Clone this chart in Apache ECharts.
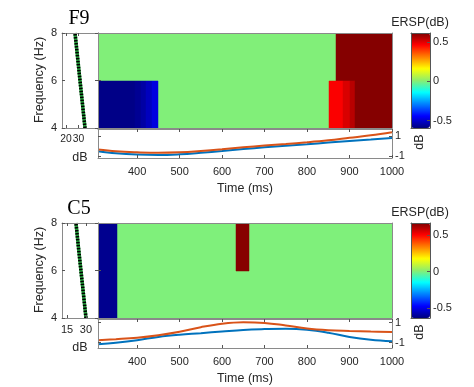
<!DOCTYPE html>
<html><head><meta charset="utf-8">
<script src="https://cdn.jsdelivr.net/npm/echarts@6/dist/echarts.min.js"></script>
<style>html,body{margin:0;padding:0;background:#fff}#c{width:474px;height:387px}</style>
</head><body><div id="c"></div>
<script>
// ---------- DATA ----------
const timeTicks = [400, 500, 600, 700, 800, 900, 1000];
const freqTicks = [4, 6, 8];
const colorbarTicks = [-0.5, 0, 0.5];
const lineTicks = [-1, 1];

// ERSP cells: [t0 (ms), t1 (ms), f0 (Hz), f1 (Hz), ERSP (dB)]
const f9Cells = [
  [308, 1000, 4, 8, 0],
  [308, 395, 4, 6, -0.585],
  [395, 410, 4, 6, -0.57],
  [410, 422, 4, 6, -0.55],
  [422, 435, 4, 6, -0.52],
  [435, 449, 4, 6, -0.48],
  [868, 1000, 6, 8, 0.61],
  [852, 885, 4, 6, 0.47],
  [885, 900, 4, 6, 0.51],
  [900, 913, 4, 6, 0.55],
  [913, 1000, 4, 6, 0.61]
];
const c5Cells = [
  [308, 1000, 4, 8, 0],
  [308, 353, 4, 8, -0.61],
  [633, 663, 6, 8, 0.65]
];

// Line panel (dB) over time
const lineTime = [308, 350, 400, 450, 500, 550, 600, 650, 700, 750, 800, 850, 900, 950, 1000];
const f9Orange = [-0.38, -0.55, -0.65, -0.70, -0.65, -0.52, -0.35, -0.15, 0.02, 0.18, 0.35, 0.55, 0.80, 1.05, 1.35];
const f9Blue   = [-0.55, -0.75, -0.88, -0.92, -0.85, -0.70, -0.52, -0.33, -0.15, 0.00, 0.15, 0.32, 0.48, 0.63, 0.78];
const c5Orange = [-0.75, -0.65, -0.50, -0.25, 0.10, 0.55, 0.90, 1.05, 0.98, 0.72, 0.42, 0.25, 0.17, 0.11, 0.08];
const c5Blue   = [-1.15, -1.00, -0.75, -0.42, -0.20, -0.05, 0.12, 0.28, 0.36, 0.40, 0.30, 0.00, -0.42, -0.70, -0.85];

// Power spectrum (dB) per frequency
const specFreq = [4, 5, 6, 7, 8];
const f9SpecDb = [35.2, 33.2, 31.2, 29.2, 27.2];
const c5SpecDb = [30.0, 28.0, 26.0, 24.0, 22.1];
const f9SpecTicks = [20, 30];
const c5SpecTicks = [15, 30];

// ---------- CHART ----------
const jet = ['#00007F', '#0000FF', '#007FFF', '#00FFFF', '#8CEE6E', '#FFFF00', '#FF7F00', '#FF0000', '#7F0000'];
const FONT = '"Liberation Sans", Arial, sans-serif';
const lineCol = '#8a8a8a';
const tickCol = '#555';
const lbl = { color: '#262626', fontSize: 11, fontFamily: FONT, hideOverlap: false, formatter: v => String(v) };

const panels = [
  { name: 'F9', top: 33, lineTop: 129, cells: f9Cells, orange: f9Orange, blue: f9Blue, spec: f9SpecDb,
    specRange: [16.8, 45.6], specTicks: f9SpecTicks, specFont: 10.3, lineRange: [-1.22, 1.68], cbRange: [-0.594, 0.617] },
  { name: 'C5', top: 223, lineTop: 319, cells: c5Cells, orange: c5Orange, blue: c5Blue, spec: c5SpecDb,
    specRange: [11.05, 39.5], specTicks: c5SpecTicks, specFont: 11, lineRange: [-1.53, 1.37], cbRange: [-0.63, 0.66] }
];

const grid = [], xAxis = [], yAxis = [], series = [], visualMap = [], graphic = [];

function frameX(gi, pos, min, max, extra) {
  return Object.assign({
    gridIndex: gi, type: 'value', position: pos, min: min, max: max, z: 10,
    axisLine: { show: true, onZero: false, lineStyle: { color: lineCol, width: 1 } },
    axisTick: { show: false }, axisLabel: { show: false }, splitLine: { show: false }
  }, extra || {});
}
function frameY(gi, pos, min, max, extra) {
  return Object.assign({
    gridIndex: gi, type: 'value', position: pos, min: min, max: max, z: 10,
    axisLine: { show: true, onZero: false, lineStyle: { color: lineCol, width: 1 } },
    axisTick: { show: false }, axisLabel: { show: false }, splitLine: { show: false }
  }, extra || {});
}
const inTick = (vals) => ({ show: true, inside: true, length: 3, customValues: vals, lineStyle: { color: tickCol } });

panels.forEach((p, k) => {
  const g = grid.length;
  grid.push({ left: 98, top: p.top, width: 294, height: 95 });          // heatmap
  grid.push({ left: 62, top: p.top, width: 36, height: 95 });           // spectrum
  grid.push({ left: 98, top: p.lineTop, width: 294, height: 29 });      // lines
  grid.push({ left: 411, top: p.top, width: 19, height: 95 });          // colorbar frame

  // heatmap axes
  const hx = xAxis.length;
  xAxis.push(frameX(g, 'bottom', 308, 1000));
  xAxis.push(frameX(g, 'top', 308, 1000));
  const hy = yAxis.length;
  yAxis.push(frameY(g, 'left', 4, 8, { axisTick: inTick([6]) }));
  yAxis.push(frameY(g, 'right', 4, 8));

  // spectrum axes
  const sx = xAxis.length;
  xAxis.push(frameX(g + 1, 'bottom', p.specRange[0], p.specRange[1], {
    axisTick: inTick(p.specTicks),
    axisLabel: Object.assign({}, lbl, { show: true, margin: 6, customValues: p.specTicks, fontSize: p.specFont })
  }));
  xAxis.push(frameX(g + 1, 'top', p.specRange[0], p.specRange[1], { axisTick: inTick(p.specTicks) }));
  const sy = yAxis.length;
  yAxis.push(frameY(g + 1, 'left', 4, 8, {
    axisTick: inTick(freqTicks),
    axisLabel: Object.assign({ show: true, margin: 5, customValues: freqTicks }, lbl)
  }));
  yAxis.push(frameY(g + 1, 'right', 4, 8, { axisTick: inTick(freqTicks) }));

  // line axes
  const lx = xAxis.length;
  xAxis.push(frameX(g + 2, 'bottom', 308, 1000, {
    axisTick: inTick(timeTicks),
    axisLabel: Object.assign({ show: true, margin: 8, customValues: timeTicks }, lbl)
  }));
  xAxis.push(frameX(g + 2, 'top', 308, 1000, { axisTick: inTick(timeTicks) }));
  const ly = yAxis.length;
  yAxis.push(frameY(g + 2, 'right', p.lineRange[0], p.lineRange[1], {
    axisTick: inTick(lineTicks),
    axisLabel: Object.assign({ show: true, margin: 3, customValues: lineTicks }, lbl)
  }));
  yAxis.push(frameY(g + 2, 'left', p.lineRange[0], p.lineRange[1], { axisTick: inTick(lineTicks) }));

  // colorbar frame/labels
  const cbLine = { show: true, onZero: false, lineStyle: { color: '#555' } };
  xAxis.push(frameX(g + 3, 'bottom', 0, 1, { axisLine: cbLine }));
  xAxis.push(frameX(g + 3, 'top', 0, 1, { axisLine: cbLine }));
  yAxis.push(frameY(g + 3, 'right', p.cbRange[0], p.cbRange[1], {
    axisLine: cbLine,
    axisTick: inTick(colorbarTicks),
    axisLabel: Object.assign({ show: true, margin: 3, customValues: colorbarTicks }, lbl)
  }));
  yAxis.push(frameY(g + 3, 'left', p.cbRange[0], p.cbRange[1], { axisLine: cbLine }));

  // heatmap series
  const si = series.length;
  series.push({
    type: 'custom', xAxisIndex: hx, yAxisIndex: hy, clip: true, z: 2,
    encode: { x: [0, 1], y: [2, 3] },
    data: p.cells,
    renderItem: function (params, api) {
      const a = api.coord([api.value(0), api.value(3)]);
      const b = api.coord([api.value(1), api.value(2)]);
      const x0 = Math.round(a[0]), x1 = Math.round(b[0]);
      const y0 = Math.round(a[1]), y1 = Math.round(b[1]);
      const c = api.visual('color');
      return { type: 'rect', shape: { x: x0, y: y0, width: x1 - x0, height: y1 - y0 },
               style: { fill: c, stroke: c, lineWidth: 0.5 } };
    }
  });
  visualMap.push({
    type: 'continuous', seriesIndex: si, dimension: 4,
    min: p.cbRange[0], max: p.cbRange[1], inRange: { color: jet },
    left: 411, top: p.top, itemWidth: 19, itemHeight: 95, padding: 0,
    calculable: false, hoverLink: false, text: null, show: true
  });

  // spectrum lines (green with black dots)
  const specData = specFreq.map((f, i) => [p.spec[i], f]);
  series.push({ type: 'line', xAxisIndex: sx, yAxisIndex: sy, data: specData, showSymbol: false, silent: true,
    lineStyle: { color: '#22a03a', width: 3.5 }, z: 3 });
  series.push({ type: 'line', xAxisIndex: sx, yAxisIndex: sy, data: specData, showSymbol: false, silent: true,
    lineStyle: { color: '#000', width: 3.5, type: [1.5, 1.5] }, z: 4 });

  // time-course lines
  series.push({ type: 'line', xAxisIndex: lx, yAxisIndex: ly, data: lineTime.map((t, i) => [t, p.blue[i]]),
    smooth: 0.4, showSymbol: false, silent: true, lineStyle: { color: '#0072BD', width: 2 }, z: 3 });
  series.push({ type: 'line', xAxisIndex: lx, yAxisIndex: ly, data: lineTime.map((t, i) => [t, p.orange[i]]),
    smooth: 0.4, showSymbol: false, silent: true, lineStyle: { color: '#D95319', width: 2 }, z: 4 });

  // texts
  const T = p.top;
  graphic.push({ type: 'text', x: 79, y: T - 14, style: { text: p.name, font: '20px "Liberation Serif", "Times New Roman", serif', fill: '#000', align: 'center', verticalAlign: 'middle' } });
  graphic.push({ type: 'text', x: 420, y: T - 10, style: { text: 'ERSP(dB)', font: '12.5px ' + FONT, fill: '#262626', align: 'center', verticalAlign: 'middle' } });
  graphic.push({ type: 'text', x: 40, y: T + 47, rotation: Math.PI / 2, style: { text: 'Frequency (Hz)', font: '12.5px ' + FONT, fill: '#262626', align: 'center', verticalAlign: 'middle' } });
  graphic.push({ type: 'text', x: 80, y: T + 125, style: { text: 'dB', font: '12.5px ' + FONT, fill: '#262626', align: 'center', verticalAlign: 'middle' } });
  graphic.push({ type: 'text', x: 420, y: T + 109, rotation: Math.PI / 2, style: { text: 'dB', font: '12.5px ' + FONT, fill: '#262626', align: 'center', verticalAlign: 'middle' } });
  graphic.push({ type: 'text', x: 245, y: T + 156, style: { text: 'Time (ms)', font: '12.5px ' + FONT, fill: '#262626', align: 'center', verticalAlign: 'middle' } });
});

const chart = echarts.init(document.getElementById('c'), null, { renderer: 'canvas' });
chart.setOption({
  animation: false,
  backgroundColor: '#fff',
  grid: grid, xAxis: xAxis, yAxis: yAxis, series: series, visualMap: visualMap, graphic: graphic
});
</script>
</body></html>
